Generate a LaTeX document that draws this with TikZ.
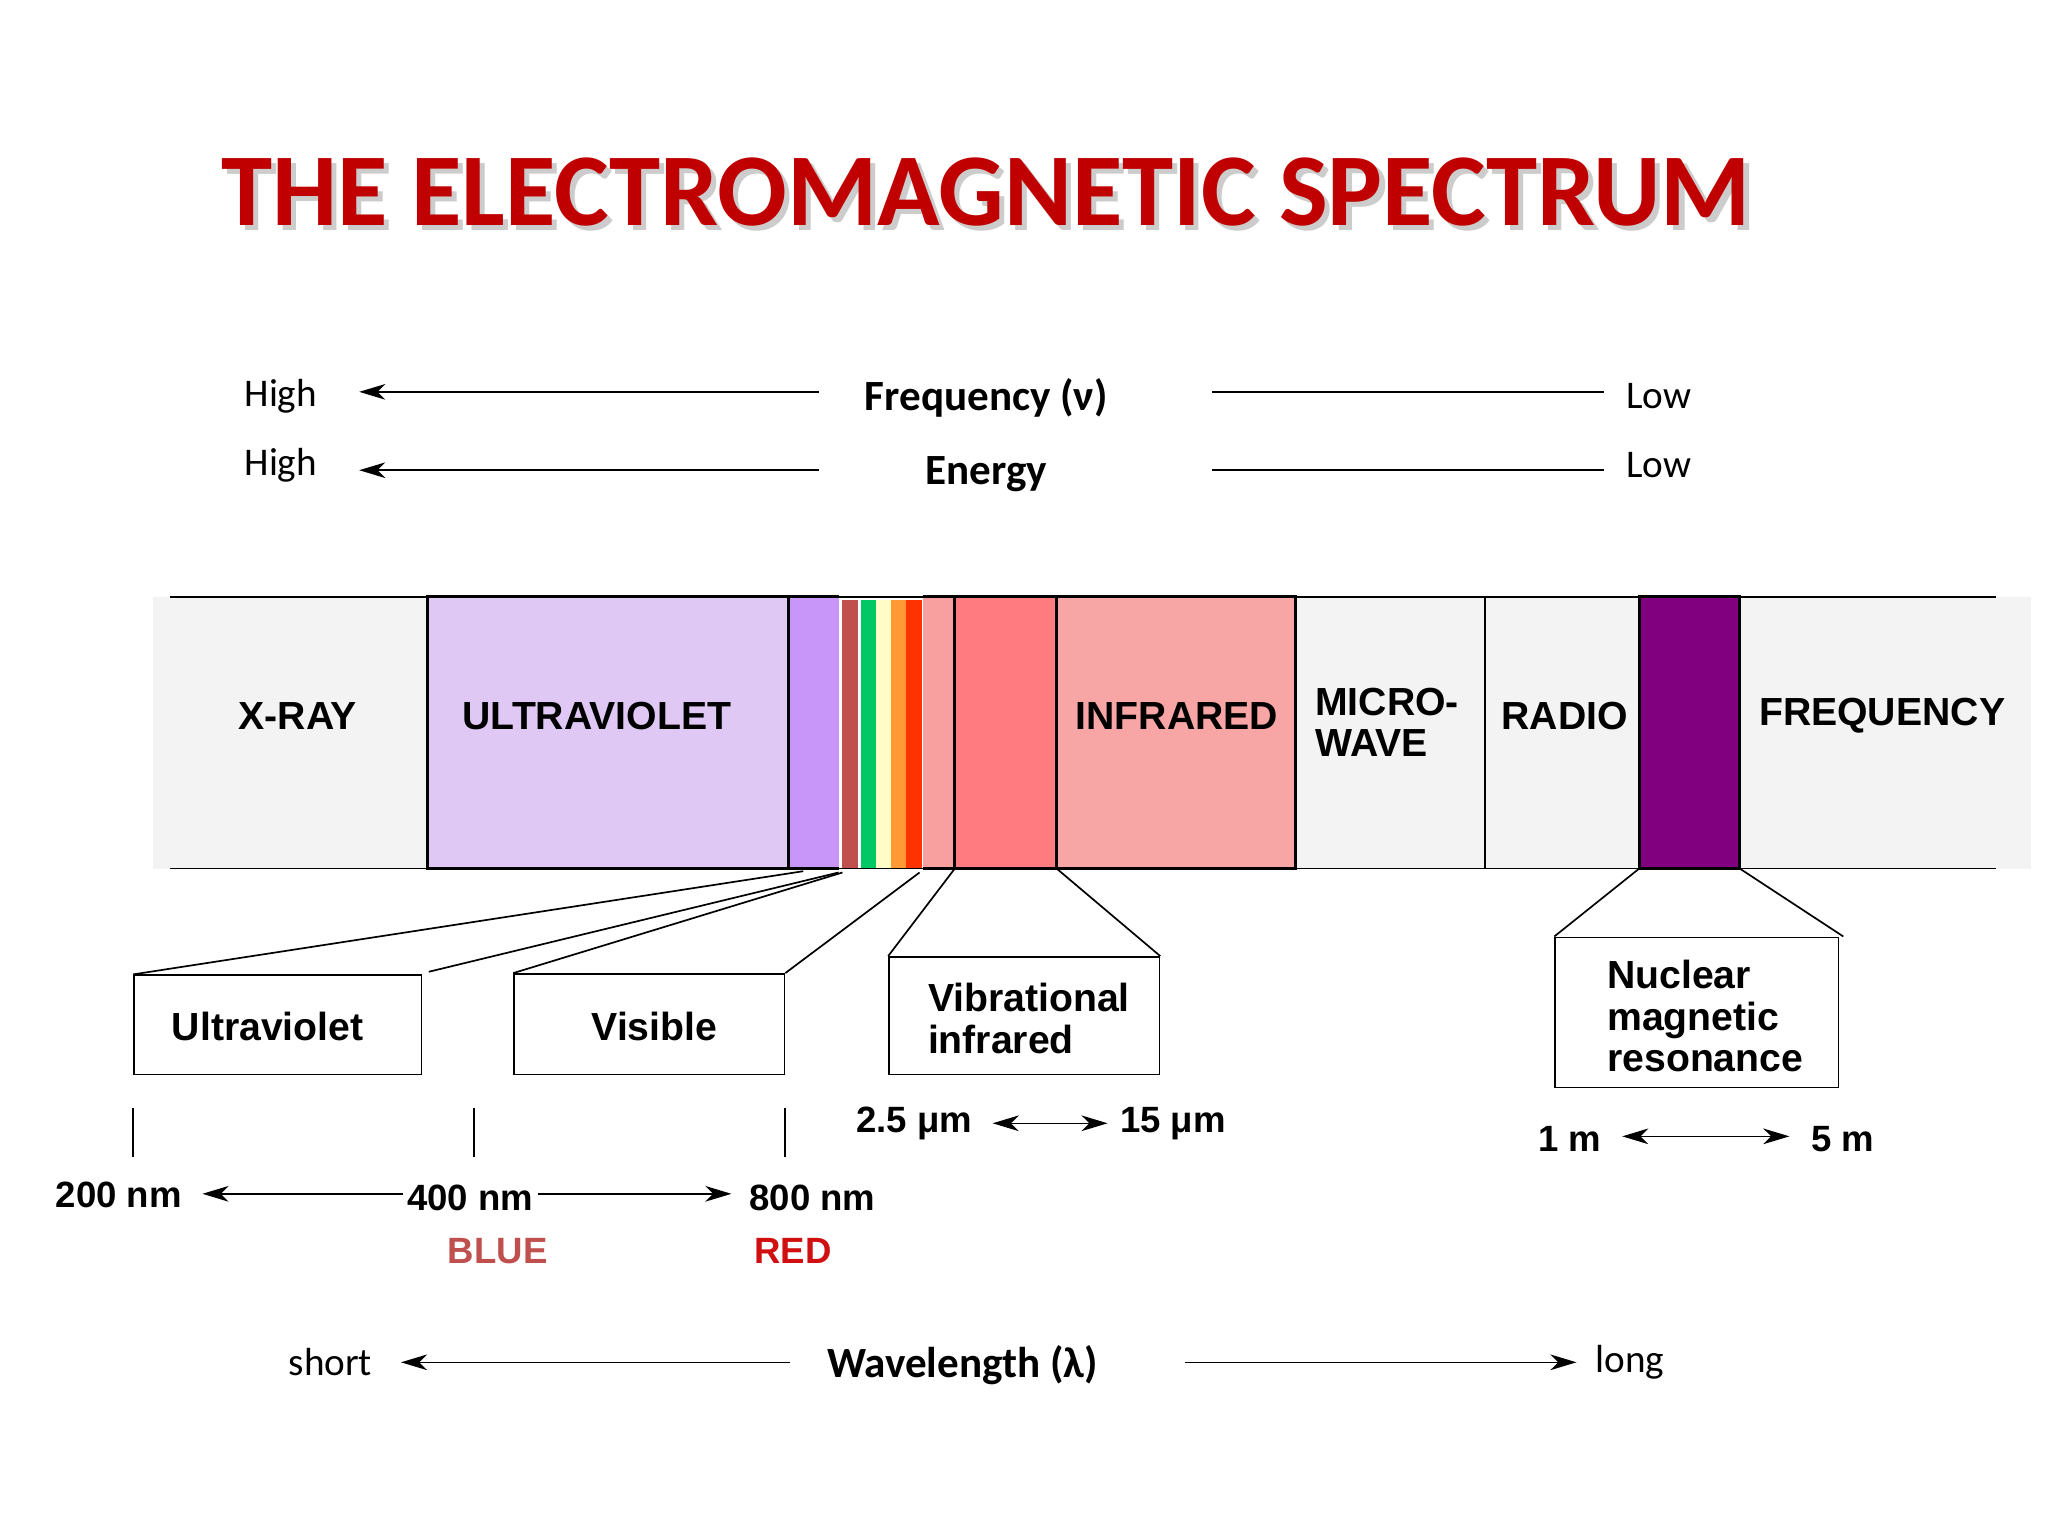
\documentclass[tikz,border=0pt]{standalone}
\usepackage{fontspec}
\setmainfont{Carlito}
\newfontfamily\arialf{Liberation Sans}
\usetikzlibrary{arrows.meta}
\definecolor{ttl}{HTML}{C00000}
\definecolor{bandbg}{HTML}{F3F3F3}
\definecolor{uvA}{HTML}{E0C8F5}
\definecolor{uvB}{HTML}{C896F8}
\definecolor{vb}{HTML}{C0504D}
\definecolor{vg}{HTML}{00C864}
\definecolor{vy}{HTML}{FFFCC8}
\definecolor{vo}{HTML}{FF9933}
\definecolor{vr}{HTML}{FF3300}
\definecolor{pk}{HTML}{F8A0A0}
\definecolor{sal}{HTML}{FF7B7F}
\definecolor{irc}{HTML}{F7A5A5}
\definecolor{pur}{HTML}{800080}
\definecolor{bluet}{HTML}{C0504D}
\definecolor{redt}{HTML}{D01010}
\begin{document}
\begin{tikzpicture}[x=1pt,y=-1pt,
  band/.style={draw=black,line width=2.2pt},
  blab/.style={font=\arialf\bfseries\fontsize{30}{32}\selectfont,align=left},
  cbox/.style={draw=black,line width=1.3pt},
  call/.style={line width=1.3pt},
  hl/.style={font=\fontsize{30}{32}\selectfont},
  hb/.style={font=\bfseries\fontsize{33}{35}\selectfont},
  nm/.style={font=\arialf\bfseries\fontsize{28}{30}\selectfont},
  arr/.style={line width=1.2pt,-{Stealth[length=20pt,width=12pt,inset=6pt]}},
  arrd/.style={line width=1.2pt,{Stealth[length=20pt,width=12pt,inset=6pt]}-{Stealth[length=20pt,width=12pt,inset=6pt]}}]
\useasboundingbox (0,0) rectangle (1568,1176);
\fill[white] (0,0) rectangle (1568,1176);
% title
\node[font=\bfseries\fontsize{79}{84}\selectfont,text=black!20] at (759,151) {THE ELECTROMAGNETIC SPECTRUM};
\node[font=\bfseries\fontsize{79}{84}\selectfont,text=ttl] (title) at (755,147) {THE ELECTROMAGNETIC SPECTRUM};
% top scales
\node[hl] (hi1) at (215,303) {High};
\node[hb] (freq) at (755,305) {Frequency (ν)};
\node[hl] (lo1) at (1270,303) {Low};
\node[hl] (hi2) at (215,356) {High};
\node[hb] (ener) at (755,363) {Energy};
\node[hl] (lo2) at (1270,356) {Low};
\coordinate (f1) at (627,300); \coordinate (f2) at (275,300);
\coordinate (f3) at (928,300); \coordinate (f4) at (1228,300);
\coordinate (e1) at (627,360); \coordinate (e2) at (275,360);
\coordinate (e3) at (928,360); \coordinate (e4) at (1228,360);
\draw[arr] (f1) -- (f2); \draw[line width=1.2pt] (f3) -- (f4);
\draw[arr] (e1) -- (e2); \draw[line width=1.2pt] (e3) -- (e4);
% band
\fill[bandbg] (117,457) rectangle (1555,665);
\fill[uvB] (604,457) rectangle (642,665);
\fill[white] (642,457) rectangle (707,665);
\fill[vb] (645,459) rectangle (657,665);
\fill[vg] (659,459) rectangle (671,665);
\fill[vy] (671,459) rectangle (682,665);
\fill[vo] (682,459) rectangle (694,665);
\fill[vr] (694,459) rectangle (706,665);
\fill[pk] (707,457) rectangle (731,665);
\draw[band,fill=uvA] (327,457) rectangle (604,665);
\draw[band] (604,457) -- (604,665);
\draw[band] (604,457) -- (642,457) (604,665) -- (642,665) (707,457) -- (731,457) (707,665) -- (731,665);
\draw[band,fill=sal] (731,457) rectangle (809,665);
\draw[band,fill=irc] (809,457) rectangle (992,665);
\draw[band,fill=pur] (1255,457) rectangle (1332,665);
\draw[line width=1.3pt] (130,457) -- (1528,457) (130,665) -- (1528,665);
\draw[line width=1.3pt] (1137,457) -- (1137,665);
\node[blab] (xr) at (228,548) {X-RAY};
\node[blab] (uv) at (457,548) {ULTRAVIOLET};
\node[blab] (ir) at (901,548) {INFRARED};
\node[blab] (mw) at (1062,553) {MICRO-\\WAVE};
\node[blab] (ra) at (1198,548) {RADIO};
\node[blab] (fr) at (1441,548) {FREQUENCY};
% callout boxes
\node[cbox,minimum width=220pt,minimum height=76pt,anchor=north west,blab] (buv) at (102,746) {};
\node[blab] at (205,786) {Ultraviolet};
\node[cbox,minimum width=207pt,minimum height=77pt,anchor=north west] (bvis) at (393,745) {};
\node[blab] at (501,786) {Visible};
\node[cbox,minimum width=207pt,minimum height=90pt,anchor=north west] (bvib) at (680,732) {};
\node[blab,anchor=west] at (707,780) {Vibrational\\infrared};
\node[cbox,minimum width=217pt,minimum height=115pt,anchor=north west] (bnmr) at (1190,717) {};
\node[blab,anchor=west] at (1227,778) {Nuclear\\magnetic\\resonance};
\draw[call] (buv.north west) -- (615,667);
\draw[call] (buv.north east) ++(5,-2) -- (642,668);
\draw[call] (bvis.north west) -- (645,668);
\draw[call] (bvis.north east) -- (704,668);
\draw[call] (bvib.north west) -- (731,665);
\draw[call] (bvib.north east) -- (809,665);
\draw[call] (bnmr.north west) -- (1255,665);
\draw[call] (bnmr.north east) ++(3,0) -- (1332,665);
% ticks and wavelengths
\draw[line width=1.3pt] (102,848) -- (102,886) (363,848) -- (363,886) (601,848) -- (601,886);
\node[nm] (n200) at (91,915) {200 nm};
\node[nm] (n400) at (360,917) {400 nm};
\node[nm] (n800) at (622,917) {800 nm};
\draw[arr] (n400.west |- 0,914) -- (155,914);
\draw[arr] (n400.east |- 0,914) -- (560,914);
\node[nm,text=bluet] at (381,958) {BLUE};
\node[nm,text=redt] at (607,958) {RED};
\node[nm] (m25) at (700,860) {2.5 μm};
\node[nm] (m15) at (898,860) {15 μm};
\draw[arrd] (760,860) -- (848,860);
\node[nm] (m1) at (1202,872) {1 m};
\node[nm] (m5) at (1411,872) {5 m};
\draw[arrd] (1242,870) -- (1370,870);
% wavelength
\node[hl] (sh) at (253,1043) {short};
\node[hb] (wl) at (737,1045) {Wavelength (λ)};
\node[hl] (lg) at (1248,1043) {long};
\coordinate (w1) at (605,1043); \coordinate (w2) at (307,1043);
\coordinate (w3) at (907,1043); \coordinate (w4) at (1207,1043);
\draw[arr] (w1) -- (w2); \draw[arr] (w3) -- (w4);
\end{tikzpicture}
\end{document}
